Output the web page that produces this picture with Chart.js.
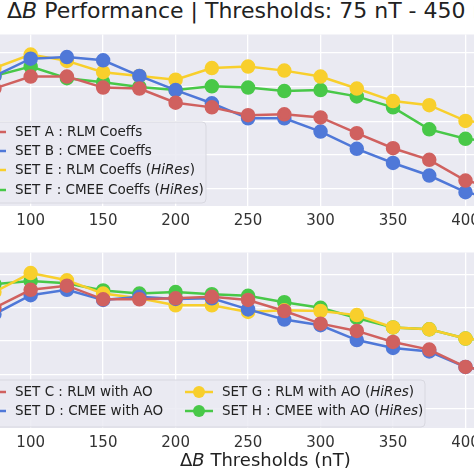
<!DOCTYPE html>
<html><head><meta charset="utf-8">
<script src="https://cdn.jsdelivr.net/npm/chart.js@4"></script>
<style>
body{margin:0;background:#fff;width:474px;height:474px;overflow:hidden;position:relative;font-family:"DejaVu Sans",sans-serif;color:#222}
.c{position:absolute;left:-9px;width:495px}
#title{position:absolute;left:7px;top:-2px;font-size:22px;white-space:nowrap}
#xl{position:absolute;left:180px;top:449px;font-size:18px;white-space:nowrap}
</style></head><body>
<div id="title">Δ<i>B</i> Performance | Thresholds: 75 nT - 450 nT</div>
<div class="c" style="top:26px;height:210px"><canvas id="c1"></canvas></div>
<div class="c" style="top:244px;height:214px"><canvas id="c2"></canvas></div>
<div id="xl">Δ<i>B</i> Thresholds (nT)</div>
<script>
const thresholds=[75,100,125,150,175,200,225,250,275,300,325,350,375,400,425];
// values (relative units, larger = lower on plot)
const setA=[160,122,122,157,160,205,220,245,242,252,302,350,387,453,480];
const setB=[120,65,60,70,120,165,207,255,255,297,352,397,437,490,515];
const setE=[95,52,72,108,120,132,95,90,103,122,160,200,213,263,275];
const setF=[120,90,127,140,155,165,153,157,168,165,185,220,290,320,332];
const setC=[190,133,120,163,163,160,155,165,200,240,263,298,322,377,398];
const setD=[210,150,133,165,155,162,160,195,227,245,292,317,328,377,398];
const setG=[140,80,103,145,160,182,182,203,198,200,213,252,258,287,297];
const setH=[115,105,112,135,145,140,147,152,172,190,222,252,258,287,297];
const xTicks=[100,150,200,250,300,350,400];
const RED='#d0615f',BLUE='#4f78d8',YEL='#f8cf2c',GRN='#48c848';
function ds(label,data,col){return{label,data:data.map((v,i)=>({x:thresholds[i],y:v})),borderColor:col,backgroundColor:col,borderWidth:2.5,pointRadius:6,pointHoverRadius:6};}
const bg={id:'bg',beforeDraw(c){const a=c.chartArea,x=c.ctx;x.save();x.fillStyle='#eaeaf2';x.fillRect(a.left,a.top,a.right-a.left,a.bottom-a.top);x.restore();}};
function drawLabel(ctx,txt,x,y){const parts=txt.split(/(HiRes)/);let cx=x;for(const p of parts){ctx.font=(p==='HiRes'?'italic ':'')+'13.5px "DejaVu Sans"';ctx.fillText(p,cx,y);cx+=ctx.measureText(p).width;}}
function legendPlugin(box,items){return{id:'lg',afterDatasetsDraw(c){const x=c.ctx;x.save();x.fillStyle='rgba(234,234,242,0.85)';x.strokeStyle='#d8d8e0';x.lineWidth=1;x.beginPath();x.roundRect(box[0],box[1],box[2],box[3],4);x.fill();x.stroke();x.textBaseline='middle';
for(const it of items){const d=c.data.datasets[it.i];x.strokeStyle=d.borderColor;x.lineWidth=2.5;x.beginPath();x.moveTo(it.x,it.y);x.lineTo(it.x+28,it.y);x.stroke();if(it.mark){x.fillStyle=d.borderColor;x.beginPath();x.arc(it.x+14,it.y,6,0,Math.PI*2);x.fill();}x.fillStyle='#222';drawLabel(x,d.label,it.x+37,it.y);}x.restore();}};}
function mk(id,sets,ymin,ymax,grid,lg){
new Chart(document.getElementById(id),{type:'line',data:{datasets:sets},plugins:[bg,lg],
options:{responsive:true,maintainAspectRatio:false,animation:false,events:[],layout:{padding:0},
plugins:{legend:{display:false},tooltip:{enabled:false}},
scales:{x:{type:'linear',min:78.5,max:407.6,afterBuildTicks:s=>{s.ticks=xTicks.map(v=>({value:v}));},grid:{color:'#fff',lineWidth:1.3,drawTicks:false},border:{display:false},ticks:{color:'#333',font:{size:15,family:'DejaVu Sans'},padding:6}},
y:{reverse:true,min:ymin,max:ymax,afterBuildTicks:s=>{s.ticks=grid.map(v=>({value:v}));},afterFit:s=>{s.width=0;},grid:{color:'#fff',lineWidth:1.3,drawTicks:false},border:{display:false},ticks:{display:false}}}}});}
mk('c1',[ds('SET A : RLM Coeffs',setA,RED),ds('SET B : CMEE Coeffs',setB,BLUE),ds('SET E : RLM Coeffs (HiRes)',setE,YEL),ds('SET F : CMEE Coeffs (HiRes)',setF,GRN)],
 -12,534,[45,155,265,370,478],
 legendPlugin([3,96,212,81],[{i:0,x:-13,y:106},{i:1,x:-13,y:125},{i:2,x:-13,y:144},{i:3,x:-13,y:164}]));
mk('c2',[ds('SET C : RLM with AO',setC,RED),ds('SET D : CMEE with AO',setD,BLUE),ds('SET G : RLM with AO (HiRes)',setG,YEL),ds('SET H : CMEE with AO (HiRes)',setH,GRN)],
 15,570,[85,190,295,400,510],
 legendPlugin([3,136,431,47],[{i:0,x:-13,y:148},{i:1,x:-13,y:167},{i:2,x:194,y:148,mark:true},{i:3,x:194,y:167,mark:true}]));
</script></body></html>
